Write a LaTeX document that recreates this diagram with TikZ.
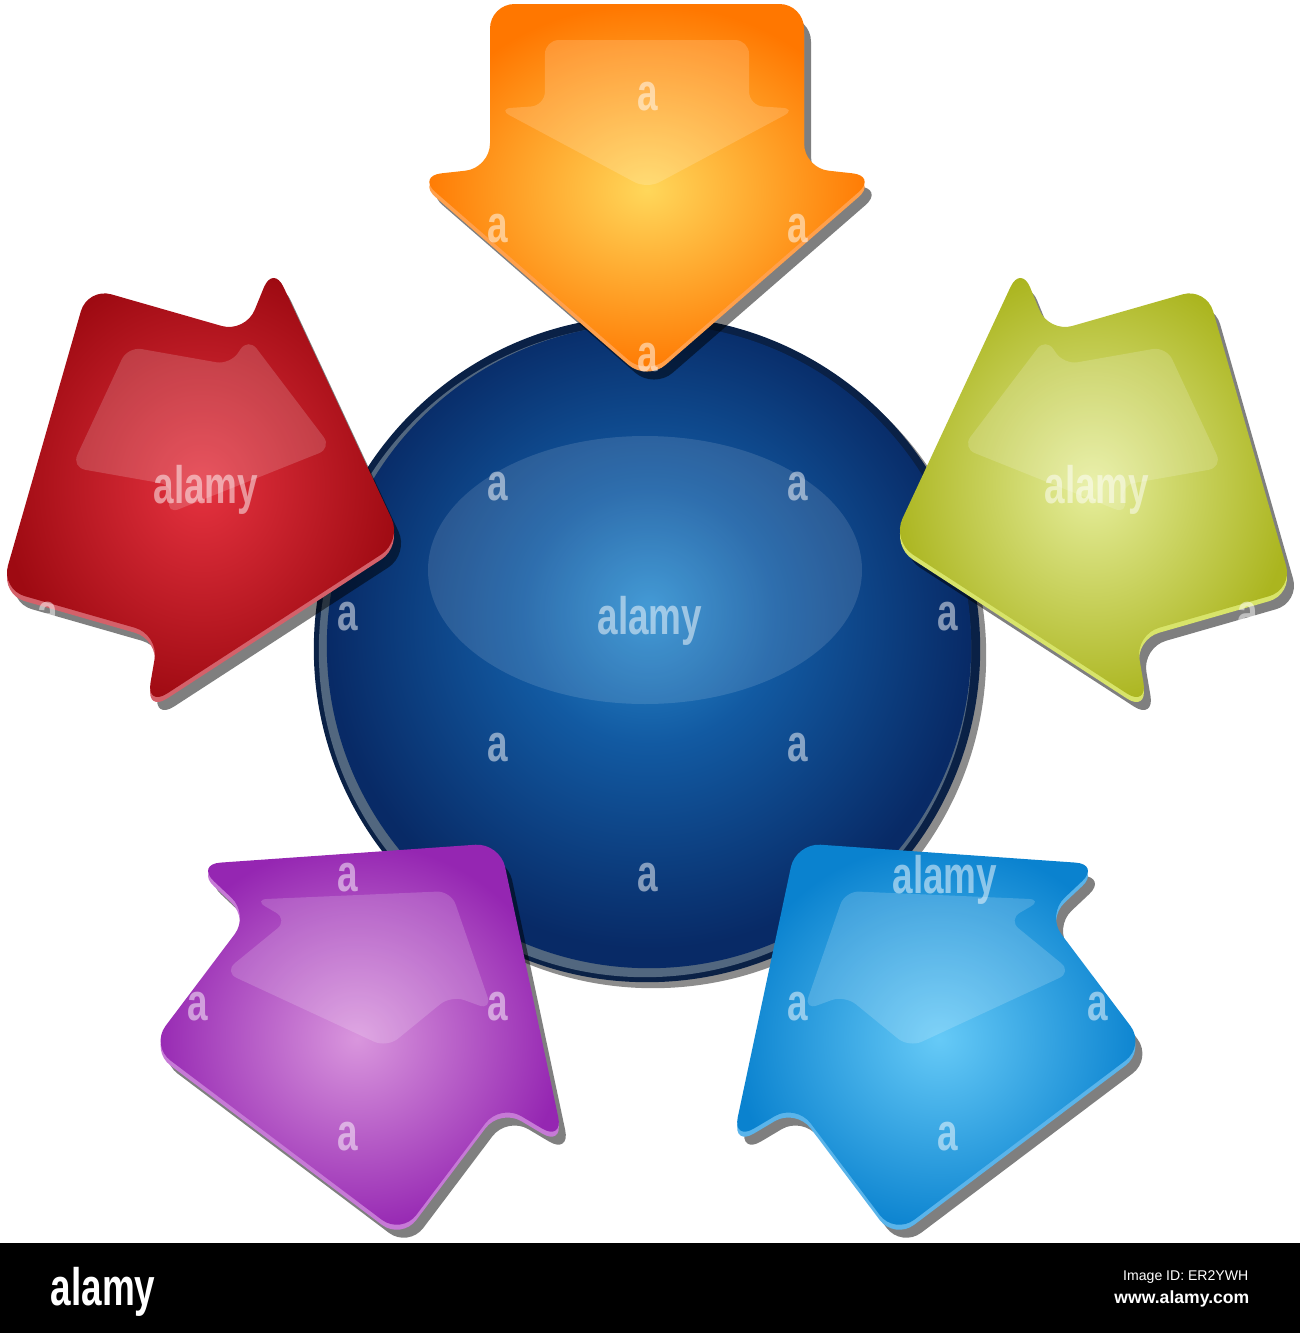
\documentclass[tikz,border=0pt]{standalone}
\usepackage{fontspec}
\setmainfont{Liberation Sans}
\newfontfamily\brandfont{Liberation Sans}[FakeStretch=0.7]

\definecolor{orangeedge}{HTML}{FF7700}
\definecolor{orangeglow}{HTML}{FFD75A}
\definecolor{orangelip}{HTML}{FFA04C}
\definecolor{rededge}{HTML}{9E0A12}
\definecolor{redglow}{HTML}{E5323F}
\definecolor{redlip}{HTML}{D4616A}
\definecolor{limeedge}{HTML}{ABB51F}
\definecolor{limeglow}{HTML}{E6EE9C}
\definecolor{limelip}{HTML}{D8E46A}
\definecolor{purpleedge}{HTML}{9526B2}
\definecolor{purpleglow}{HTML}{D996DD}
\definecolor{purplelip}{HTML}{C67AD6}
\definecolor{blueedge}{HTML}{0A82CF}
\definecolor{blueglow}{HTML}{66CAF7}
\definecolor{bluelip}{HTML}{5AB4EA}
\definecolor{hubrim}{HTML}{0A2146}
\definecolor{hublip}{HTML}{52677F}
\definecolor{hubin}{HTML}{2A8DD0}
\definecolor{hubmid}{HTML}{125AA2}
\definecolor{hubout}{HTML}{082A66}

\pgfdeclareradialshading{hubglow}{\pgfpoint{0bp}{3bp}}{color(0bp)=(hubin); color(10bp)=(hubmid); color(25bp)=(hubout); color(50bp)=(hubout)}

% arrow outline, tip at the origin, pointing down
\newcommand{\arrowbody}{(0,0) -- (-230,-200) -- (-157,-208) -- (-157,-372) -- (157,-372) -- (157,-208) -- (230,-200) -- cycle}

\begin{document}
\begin{tikzpicture}[
            x=0.01cm, y=-0.01cm, % one unit = one pixel
            arrowshadow/.style={fill=black, opacity=.5, rounded corners=7pt},
            wmark/.style={font=\brandfont\bfseries\fontsize{15}{15}\selectfont,
            text=white, text opacity=.5, inner sep=0pt, anchor=base},
            wletter/.style={wmark, anchor=center},
            barfont/.style={text=white, inner sep=0pt, anchor=base east},
            % #1 angle, #2 edge, #3 glow, #4 lip, #5/#6 centre of the gloss
            pics/inarrow/.style n args={6}{code={
                \fill[arrowshadow, shift={(7,8)}, rotate=#1] \arrowbody;
                \fill[#4, rounded corners=7pt, rotate=#1] \arrowbody;
                \shade[inner color=#3, outer color=#2, rounded corners=7pt,
                shift={(0,-5)}, rotate=#1] \arrowbody;
                \fill[white, opacity=.17, rounded corners=4pt,
                shift={(#5,#6)}, xscale=.65, yscale=.4,
                shift={({-1*(#5)},{-1*(#6)})}, shift={(0,-5)}, rotate=#1] \arrowbody;
            }}
            ]
            \useasboundingbox (0,0) rectangle (1300,1333);

            % centre circle
            \node[circle, minimum size=6.66cm, inner sep=0pt, fill=black,
            opacity=.45] (hubshadow) at (653,655) {};
            \node[circle, minimum size=6.66cm, inner sep=0pt,
            fill=hubrim] (hubedge) at (647,649) {};
            \node[circle, minimum size=6.52cm, inner sep=0pt,
            fill=hublip] (hubring) at (645,651) {};
            \node[circle, minimum size=6.44cm, inner sep=0pt,
            shading=hubglow] (hub) at (649,646) {};
            \fill[white, opacity=.12] (645,570) ellipse (217 and 134);

            % arrows
            \pic (north) at (647,381) {inarrow={0}{orangeedge}{orangeglow}{orangelip}{0}{-317}};
            \pic (northwest) at (402,546) {inarrow={74}{rededge}{redglow}{redlip}{-200}{-160}};
            \pic (northeast) at (892,546) {inarrow={-74}{limeedge}{limeglow}{limelip}{200}{-160}};
            \pic (southwest) at (500,848) {inarrow={143}{purpleedge}{purpleglow}{purplelip}{-140}{75}};
            \pic (southeast) at (796,848) {inarrow={-143}{blueedge}{blueglow}{bluelip}{140}{75}};

            % watermark
            \node[wmark] (markhub) at (650,634) {alamy};
            \node[wmark] (markred) at (206,503) {alamy};
            \node[wmark] (marklime) at (1097,503) {alamy};
            \node[wmark] (markblue) at (945,893) {alamy};
            \node[wletter] (a1) at (648,97) {a};
            \node[wletter] (a2) at (498,229) {a};
            \node[wletter] (a3) at (798,229) {a};
            \node[wletter] (a4) at (648,358) {a};
            \node[wletter] (a5) at (498,487) {a};
            \node[wletter] (a6) at (798,487) {a};
            \node[wletter] (a7) at (48,617) {a};
            \node[wletter] (a8) at (348,617) {a};
            \node[wletter] (a9) at (948,617) {a};
            \node[wletter] (a10) at (1248,617) {a};
            \node[wletter] (a11) at (498,748) {a};
            \node[wletter] (a12) at (798,748) {a};
            \node[wletter] (a13) at (348,878) {a};
            \node[wletter] (a14) at (648,878) {a};
            \node[wletter] (a15) at (198,1007) {a};
            \node[wletter] (a16) at (498,1007) {a};
            \node[wletter] (a17) at (798,1007) {a};
            \node[wletter] (a18) at (1098,1007) {a};
            \node[wletter] (a19) at (348,1137) {a};
            \node[wletter] (a20) at (948,1137) {a};

            % bottom bar
            \fill[black] (0,1243) rectangle (1300,1333);
            \node[font=\brandfont\bfseries\fontsize{15}{15}\selectfont, text=white,
            inner sep=0pt, anchor=base west] (logo) at (50,1305) {alamy};
            \node[barfont, font=\fontsize{4}{5}\selectfont] (imageid)
            at (1249,1280) {Image ID: ER2YWH};
            \node[barfont, font=\bfseries\fontsize{5}{6}\selectfont] (website)
            at (1250,1303) {www.alamy.com};
        \end{tikzpicture}
\end{document}
